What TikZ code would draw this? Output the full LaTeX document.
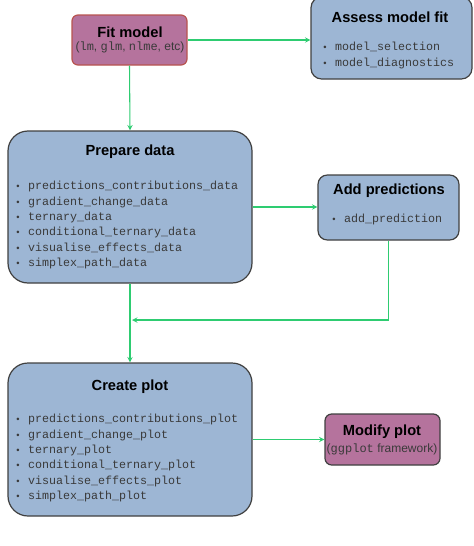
\documentclass[tikz,border=0pt]{standalone}
\usepackage{fontspec}
\setmainfont{Liberation Sans}
\setmonofont{Liberation Mono}
\usepackage{xcolor}
\usetikzlibrary{positioning}

\definecolor{boxblue}{HTML}{9DB6D4}
\definecolor{boxmauve}{HTML}{B5739D}
\definecolor{fitborder}{HTML}{B85450}
\definecolor{linkgreen}{HTML}{2ECC71}
\definecolor{itemgray}{HTML}{3A3A3A}
\newcommand{\itm}[1]{{\fontsize{7}{7}\selectfont\textbullet}\hspace{6.5pt}\texttt{#1}}

\begin{document}
\begin{tikzpicture}[x=0.75pt,y=-0.75pt,>=stealth,
  bluebox/.style={draw=black!75,fill=boxblue,line width=0.9pt},
  mauvebox/.style={fill=boxmauve,line width=0.9pt},
  title/.style={font=\fontsize{11}{13}\selectfont\bfseries},
  sub/.style={text=itemgray,font=\fontsize{9}{10}\selectfont},
  items/.style={align=left,anchor=north west,inner sep=0pt,text=itemgray,font=\fontsize{8.75}{11.55}\selectfont},
  link/.style={->,draw=linkgreen,line width=0.8pt}]
  \useasboundingbox (0,0) rectangle (474,546);
  \node[mauvebox,draw=fitborder,rounded corners=4.5pt,minimum width=86.25pt,minimum height=37.5pt] (fit) at (129.5,40) {};
  \node[bluebox,rounded corners=8pt,minimum width=120.75pt,minimum height=61.5pt] (assess) at (391.5,38) {};
  \node[bluebox,rounded corners=15pt,minimum width=183pt,minimum height=114pt] (prep) at (130,207) {};
  \node[bluebox,rounded corners=7pt,minimum width=105.75pt,minimum height=48.75pt] (addp) at (388.5,207.5) {};
  \node[bluebox,rounded corners=15pt,minimum width=183pt,minimum height=114.75pt] (create) at (130,439.5) {};
  \node[mauvebox,draw=black!75,rounded corners=5pt,minimum width=86.25pt,minimum height=38.25pt] (modify) at (382.5,439.5) {};

  \node[title] (fitt) at (130,32) {Fit model};
  \node[sub] (fits) at (130,47) {(\texttt{lm}, \texttt{glm}, \texttt{nlme}, etc)};
  \node[title] (assesst) at (390,17) {Assess model fit};
  \node[items] (assessl) at (323,42) {\itm{model\_selection}\\\itm{model\_diagnostics}};
  \node[title] (prept) at (130,152) {Prepare data};
  \node[items] (prepl) at (16,181) {\itm{predictions\_contributions\_data}\\\itm{gradient\_change\_data}\\\itm{ternary\_data}\\\itm{conditional\_ternary\_data}\\\itm{visualise\_effects\_data}\\\itm{simplex\_path\_data}};
  \node[title] (addpt) at (389,191) {Add predictions};
  \node[items] (addpl) at (332,214) {\itm{add\_prediction}};
  \node[title] (createt) at (130,387) {Create plot};
  \node[items] (createl) at (16,414) {\itm{predictions\_contributions\_plot}\\\itm{gradient\_change\_plot}\\\itm{ternary\_plot}\\\itm{conditional\_ternary\_plot}\\\itm{visualise\_effects\_plot}\\\itm{simplex\_path\_plot}};
  \node[title] (modifyt) at (382,432) {Modify plot};
  \node[sub] (modifys) at (382,449) {(\texttt{ggplot} framework)};

  \coordinate (merge) at (132,320);
  \draw[link] (fit.east) -- (fit.east -| assess.west);
  \draw[link] (fit.south) -- (prep.north);
  \draw[link] (prep.east) -- (prep.east -| addp.west);
  \draw[link] (addp.south) |- (merge);
  \draw[link] (prep.south) -- (create.north);
  \draw[link] (create.east) -- (create.east -| modify.west);
\end{tikzpicture}
\end{document}
